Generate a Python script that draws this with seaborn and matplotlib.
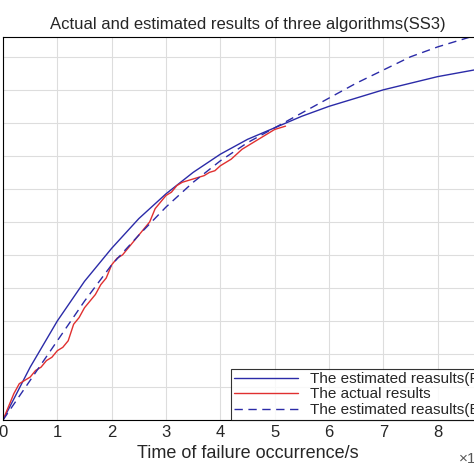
import matplotlib
matplotlib.use("Agg")
import matplotlib.pyplot as plt
import seaborn as sns
import pandas as pd

x_fit = [0,0.5,1,1.5,2,2.5,3,3.5,4,4.5,5,5.5,6,6.5,7,7.5,8,8.5,9]
pso = [0,1.6,3.0,4.2,5.2,6.1,6.85,7.5,8.05,8.5,8.85,9.2,9.5,9.75,10.0,10.2,10.4,10.55,10.7]
bas = [0,1.2,2.4,3.6,4.7,5.6,6.45,7.2,7.85,8.4,8.85,9.3,9.75,10.2,10.6,11.0,11.3,11.55,11.8]
x_act = [0,0.1,0.2,0.3,0.4,0.5,0.6,0.7,0.8,0.9,1.0,1.1,1.2,1.3,1.4,1.5,1.6,1.7,1.8,1.9,2.0,2.1,2.2,2.3,2.4,2.5,2.6,2.7,2.8,2.9,3.0,3.1,3.2,3.3,3.4,3.5,3.6,3.7,3.8,3.9,4.0,4.2,4.4,4.6,4.8,5.0,5.2]
act = [0,0.4,0.8,1.1,1.2,1.3,1.5,1.6,1.8,1.9,2.1,2.2,2.4,2.9,3.1,3.4,3.6,3.8,4.1,4.3,4.7,4.9,5.0,5.2,5.4,5.6,5.8,6.0,6.4,6.6,6.8,6.9,7.1,7.2,7.25,7.3,7.35,7.4,7.5,7.55,7.7,7.9,8.2,8.4,8.6,8.8,8.9]

sns.set_style("white")
plt.rcParams['font.family'] = ['Liberation Sans', 'DejaVu Sans']
fig = plt.figure(figsize=(4.74,4.74), dpi=100)
ax = fig.add_axes([3/474, 54/474, 489/474, 383/474])
navy = "#2b2ba8"
sns.lineplot(x=x_fit, y=pso, ax=ax, color=navy, lw=1, label="The estimated reasults(PSO-SSVR)")
sns.lineplot(x=x_act, y=act, ax=ax, color="#e03030", lw=1, label="The actual results")
sns.lineplot(x=x_fit, y=bas, ax=ax, color=navy, lw=1, linestyle=(0,(6,4)), label="The estimated reasults(BAS-ABC-SSVR)")
ax.set_xlim(0,9); ax.set_ylim(0,11.6)
ax.set_xticks(range(10)); ax.set_yticks(range(12))
ax.set_yticklabels([])
ax.grid(True, color="#dddddd", lw=0.8)
ax.tick_params(axis='both', direction='in', length=4, labelsize=12, colors="#262626")
for s in ax.spines.values():
    s.set_color("black"); s.set_linewidth(0.8)
ax.set_xlabel("Time of failure occurrence/s", fontsize=13)
ax.set_title("Actual and estimated results of three algorithms(SS3)", fontsize=12)
leg = ax.legend(loc="lower left", bbox_to_anchor=(228/489, 0), fontsize=11, frameon=True,
                fancybox=False, borderpad=0.2, labelspacing=0.1, handlelength=4.2, borderaxespad=0)
leg.get_frame().set_edgecolor("black"); leg.get_frame().set_linewidth(0.8)
fig.text(458/474, 1-458/474, "×10$^4$", fontsize=11, ha="left", va="center", color="#555555")
fig.savefig("out.png", dpi=100)
